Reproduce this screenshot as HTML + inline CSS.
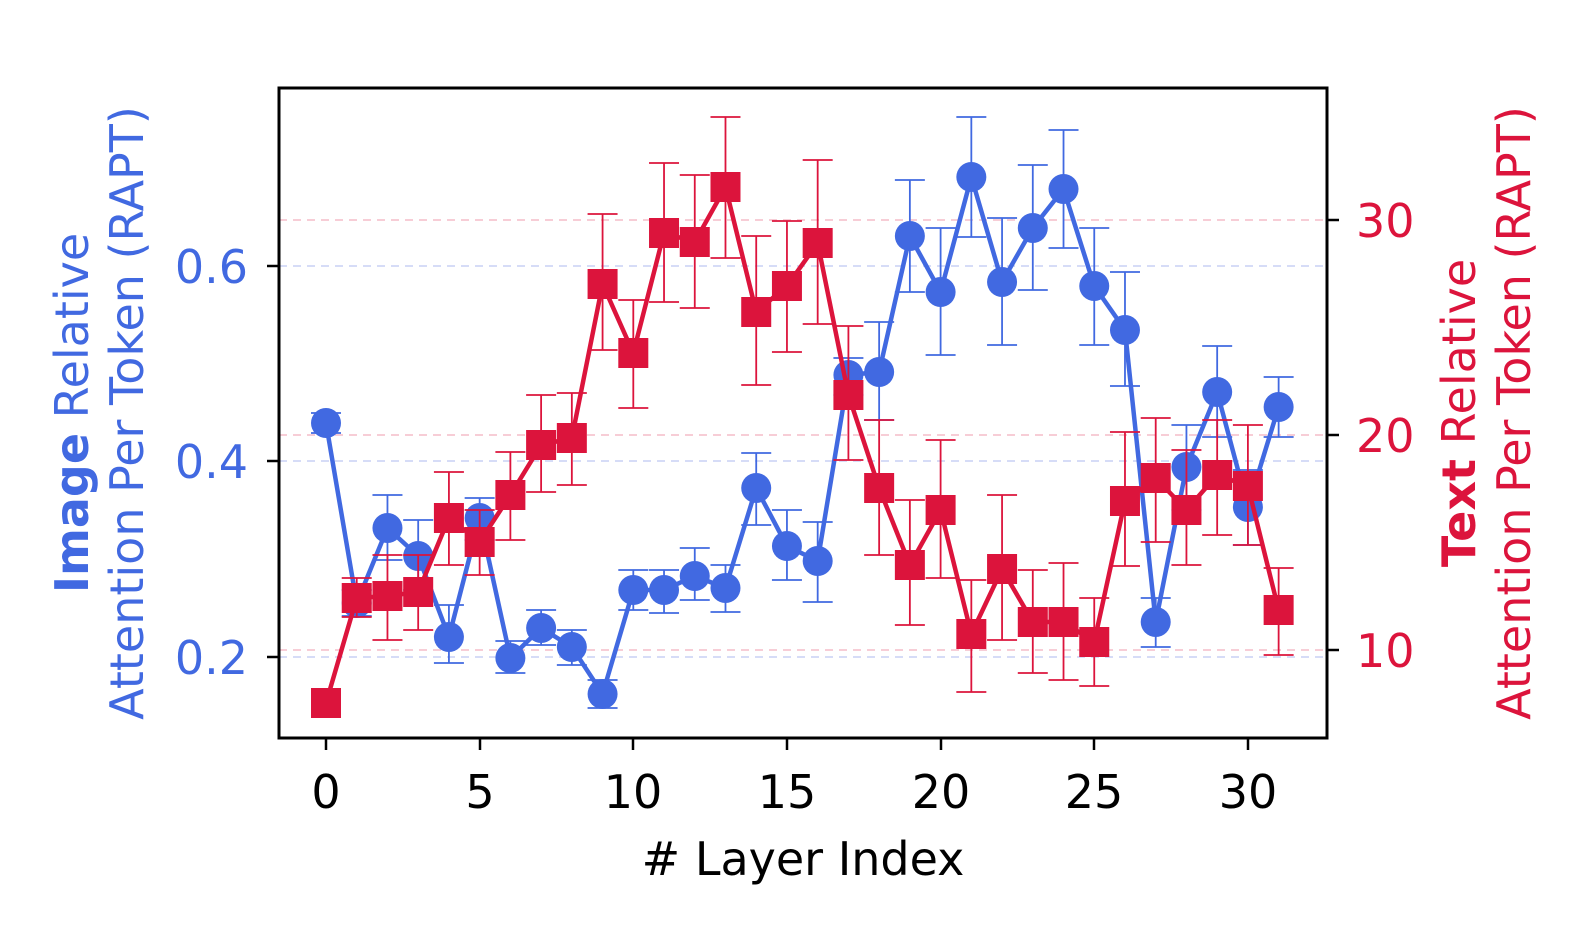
<!DOCTYPE html>
<html><head><meta charset="utf-8"><style>body{margin:0;background:#fff}svg{display:block}</style></head>
<body>
<svg id="s" width="1592" height="936" xmlns="http://www.w3.org/2000/svg" font-family="DejaVu Sans, Liberation Sans, sans-serif">
<rect width="1592" height="936" fill="#fff"/>
<g stroke-dasharray="8,6" stroke-width="2">
<line x1="279" x2="1327" y1="266" y2="266" stroke="#d6dcf7"/>
<line x1="279" x2="1327" y1="461" y2="461" stroke="#d6dcf7"/>
<line x1="279" x2="1327" y1="657" y2="657" stroke="#d6dcf7"/>
<line x1="279" x2="1327" y1="220" y2="220" stroke="#f7cdd6"/>
<line x1="279" x2="1327" y1="435" y2="435" stroke="#f7cdd6"/>
<line x1="279" x2="1327" y1="650" y2="650" stroke="#f7cdd6"/>
</g>
<g id="plot"></g>
<rect x="279" y="88" width="1048" height="650" fill="none" stroke="#000" stroke-width="3"/>
<g font-size="46" fill="#000" text-anchor="middle">
<text x="326" y="808">0</text><text x="480" y="808">5</text><text x="633" y="808">10</text><text x="787" y="808">15</text><text x="941" y="808">20</text><text x="1094" y="808">25</text><text x="1248" y="808">30</text>
<text x="803" y="875">#&#160;Layer Index</text>
</g>
<g stroke="#000" stroke-width="2.5">
<line x1="326" x2="326" y1="738" y2="750"/><line x1="480" x2="480" y1="738" y2="750"/><line x1="633" x2="633" y1="738" y2="750"/><line x1="787" x2="787" y1="738" y2="750"/><line x1="941" x2="941" y1="738" y2="750"/><line x1="1094" x2="1094" y1="738" y2="750"/><line x1="1248" x2="1248" y1="738" y2="750"/>
<line x1="267" x2="279" y1="266" y2="266"/><line x1="267" x2="279" y1="461" y2="461"/><line x1="267" x2="279" y1="657" y2="657"/>
<line x1="1327" x2="1339" y1="220" y2="220"/><line x1="1327" x2="1339" y1="435" y2="435"/><line x1="1327" x2="1339" y1="650" y2="650"/>
</g>
<g font-size="46" fill="#4169e1" text-anchor="end">
<text x="248" y="283">0.6</text><text x="248" y="478">0.4</text><text x="248" y="674">0.2</text>
</g>
<g font-size="46" fill="#dc143c">
<text x="1356" y="237">30</text><text x="1356" y="452">20</text><text x="1356" y="667">10</text>
</g>
<g font-size="46" fill="#4169e1" text-anchor="middle">
<text transform="translate(88,413) rotate(-90)"><tspan font-weight="bold">Image</tspan> Relative</text>
<text transform="translate(143,413) rotate(-90)">Attention Per Token (RAPT)</text>
</g>
<g font-size="46" fill="#dc143c" text-anchor="middle">
<text transform="translate(1475,413) rotate(-90)"><tspan font-weight="bold">Text</tspan> Relative</text>
<text transform="translate(1530,413) rotate(-90)">Attention Per Token (RAPT)</text>
</g>
</svg>
<script>
var X=i=>326+i*30.73;
var b=[423,603,528,556,637,518,658,628,647,694,590,590,576,588,488,546,561,375,372,236,292,177,282,228,189,286,330,622,467,392,507,407];
var be=[[413,433],[590,616],[495,560],[520,590],[605,663],[498,540],[641,673],[610,645],[630,665],[680,708],[570,610],[570,613],[548,600],[565,612],[453,525],[510,580],[522,602],[358,395],[322,420],[180,292],[228,355],[117,237],[218,345],[165,290],[130,248],[228,345],[272,386],[598,647],[425,510],[346,437],[470,545],[377,437]];
var r=[703,598,596,592,518,542,495,445,438,284,353,233,242,187,312,286,243,395,488,565,510,634,569,622,622,642,501,478,510,475,486,610];
var re=[[695,712],[578,617],[555,640],[555,630],[472,565],[510,575],[452,540],[395,492],[393,485],[214,350],[300,408],[163,302],[175,308],[117,258],[236,385],[221,352],[160,324],[326,460],[420,555],[500,625],[440,578],[580,692],[495,640],[570,673],[563,680],[598,686],[432,566],[418,542],[450,565],[420,535],[425,545],[568,655]];
var s='';
function series(y,e,c,sq){
 for(var i=0;i<32;i++){var x=X(i);s+=`<g stroke="${c}" stroke-width="1.8"><line x1="${x}" x2="${x}" y1="${e[i][0]}" y2="${e[i][1]}"/><line x1="${x-15}" x2="${x+15}" y1="${e[i][0]}" y2="${e[i][0]}"/><line x1="${x-15}" x2="${x+15}" y1="${e[i][1]}" y2="${e[i][1]}"/></g>`;}
 s+=`<polyline fill="none" stroke="${c}" stroke-width="4.5" points="${y.map((v,i)=>X(i)+','+v).join(' ')}"/>`;
 for(var i=0;i<32;i++){var x=X(i);s+=sq?`<rect x="${x-15}" y="${y[i]-15}" width="30" height="30" fill="${c}"/>`:`<circle cx="${x}" cy="${y[i]}" r="15" fill="${c}"/>`;}
}
series(b,be,'#4169e1',false);series(r,re,'#dc143c',true);
document.getElementById('plot').innerHTML=s;
</script>
</body></html>
